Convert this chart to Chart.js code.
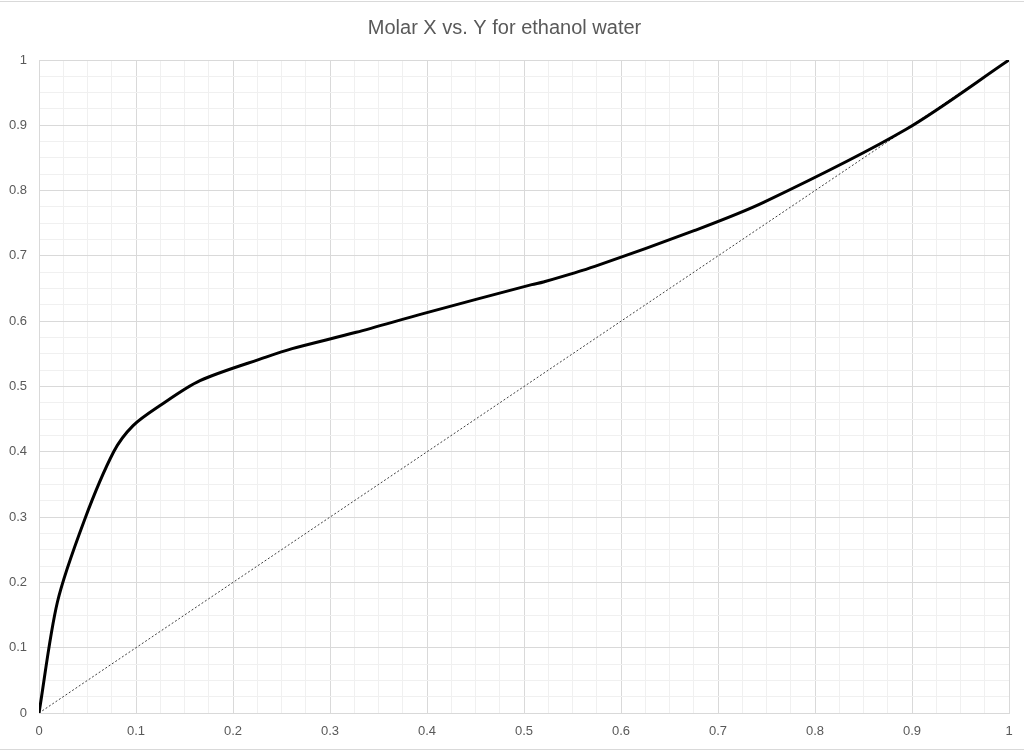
<!DOCTYPE html>
<html>
<head>
<meta charset="utf-8">
<script src="https://cdn.jsdelivr.net/npm/chart.js@4.4.1/dist/chart.umd.min.js"></script>
<style>
  html, body { margin: 0; padding: 0; background: #fff; }
  #wrap { width: 1024px; height: 751px; }
</style>
</head>
<body>
<div id="wrap"><canvas id="c" width="1024" height="751"></canvas></div>
<script>
// Equilibrium data (mole fraction ethanol in liquid x, vapour y)
const liquidX = [0, 0.019, 0.047, 0.077, 0.097, 0.124, 0.166, 0.234, 0.261, 0.327, 0.397, 0.508, 0.52, 0.573, 0.676, 0.747, 0.894, 1];
const vapourY = [0, 0.17, 0.296, 0.40, 0.44, 0.47, 0.509, 0.545, 0.558, 0.583, 0.612, 0.656, 0.66, 0.684, 0.739, 0.782, 0.894, 1];
// y = x reference line
const diagX = [0, 1];
const diagY = [0, 1];
// Axis tick labels
const tickLabels = ['0', '0.1', '0.2', '0.3', '0.4', '0.5', '0.6', '0.7', '0.8', '0.9', '1'];

const FONT = "'Liberation Sans', Arial, sans-serif";
const TEXT = '#595959';

function isMajor(v) {
  return Math.abs(v * 10 - Math.round(v * 10)) < 1e-6;
}
function tickText(v) {
  if (!isMajor(v)) return '';
  return tickLabels[Math.round(v * 10)];
}
function gridColor(ctx) {
  return isMajor(ctx.tick.value) ? '#d9d9d9' : '#f0f0f0';
}

const frame = {
  id: 'frame',
  beforeDraw(chart) {
    const c = chart.ctx;
    c.save();
    c.strokeStyle = '#d9d9d9';
    c.lineWidth = 1;
    c.beginPath();
    c.moveTo(0, 1.5); c.lineTo(1024, 1.5);
    c.moveTo(0, 749.5); c.lineTo(1024, 749.5);
    c.stroke();
    c.restore();
  }
};

new Chart(document.getElementById('c'), {
  type: 'scatter',
  data: {
    datasets: [
      {
        label: 'y = x',
        data: diagX.map((x, i) => ({ x: x, y: diagY[i] })),
        showLine: true,
        borderColor: '#404040',
        borderWidth: 1,
        borderDash: [2, 2],
        pointRadius: 0,
        fill: false,
        order: 2
      },
      {
        label: 'Equilibrium',
        data: liquidX.map((x, i) => ({ x: x, y: vapourY[i] })),
        showLine: true,
        borderColor: '#000000',
        borderWidth: 3,
        tension: 0.3,
        pointRadius: 0,
        fill: false,
        order: 1
      }
    ]
  },
  options: {
    responsive: false,
    animation: false,
    layout: { padding: { left: 0, right: 15, top: 0, bottom: 0 } },
    plugins: {
      legend: { display: false },
      tooltip: { enabled: false },
      title: {
        display: true,
        text: 'Molar X vs. Y for ethanol water',
        color: TEXT,
        font: { family: FONT, size: 20, weight: 'normal' },
        padding: { top: 16, bottom: 20 }
      }
    },
    scales: {
      x: {
        type: 'linear',
        min: 0, max: 1,
        afterFit(s) { s.height = 38; },
        border: { color: '#d9d9d9', width: 1 },
        grid: { color: gridColor, drawTicks: false },
        ticks: {
          stepSize: 0.025,
          autoSkip: false,
          maxRotation: 0,
          padding: 11,
          color: TEXT,
          font: { family: FONT, size: 13 },
          callback: (v) => tickText(v)
        }
      },
      y: {
        type: 'linear',
        min: 0, max: 1,
        afterFit(s) { s.width = 39; },
        border: { color: '#d9d9d9', width: 1 },
        grid: { color: gridColor, drawTicks: false },
        ticks: {
          stepSize: 0.025,
          autoSkip: false,
          padding: 12,
          color: TEXT,
          font: { family: FONT, size: 13 },
          callback: (v) => tickText(v)
        }
      }
    }
  },
  plugins: [frame]
});
</script>
</body>
</html>
